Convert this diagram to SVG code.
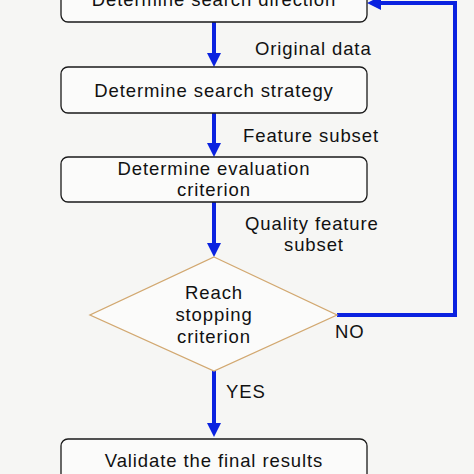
<svg xmlns="http://www.w3.org/2000/svg" width="474" height="474" viewBox="0 0 474 474">
<defs>
<style>
.box{fill:#fbfbfa;stroke:#1a1a1a;stroke-width:1.3}
.dia{fill:#fbfbfa;stroke:#d2a870;stroke-width:1.3}
.t{font-family:"Liberation Sans",Arial,sans-serif;font-size:18.5px;letter-spacing:0.9px;fill:#111;text-anchor:middle}
.l{font-family:"Liberation Sans",Arial,sans-serif;font-size:18.5px;letter-spacing:0.9px;fill:#111;text-anchor:start}
.c{fill:none;stroke:#0a22e0;stroke-width:4}
</style>
<marker id="ah" markerWidth="14" markerHeight="14" refX="0" refY="7" orient="auto" markerUnits="userSpaceOnUse" viewBox="0 0 14 14">
<path d="M0,0 L14,7 L0,14 Z" fill="#0a22e0"/>
</marker>
</defs>
<rect width="474" height="474" fill="#f6f6f4"/>
<g id="connectors">
<line class="c" x1="214" y1="22" x2="214" y2="53" marker-end="url(#ah)"/>
<line class="c" x1="214" y1="113" x2="214" y2="143" marker-end="url(#ah)"/>
<line class="c" x1="214" y1="202" x2="214" y2="243" marker-end="url(#ah)"/>
<line class="c" x1="214" y1="371" x2="214" y2="423" marker-end="url(#ah)"/>
<polyline class="c" points="337,315 455,315 455,3 381,3" marker-end="url(#ah)"/>
</g>
<g id="n1">
<rect class="box" x="61" y="-20" width="306" height="42" rx="7"/>
<text class="t" x="214" y="6">Determine search direction</text>
</g>
<g id="n2">
<rect class="box" x="61" y="67" width="306" height="46" rx="7"/>
<text class="t" x="214" y="97">Determine search strategy</text>
</g>
<g id="n3">
<rect class="box" x="61" y="157" width="306" height="45" rx="7"/>
<text class="t" x="214" y="175">Determine evaluation</text>
<text class="t" x="214" y="196">criterion</text>
</g>
<g id="n4">
<polygon class="dia" points="214,257 337,315 214,371 90,315"/>
<text class="t" x="214" y="299">Reach</text>
<text class="t" x="214" y="321">stopping</text>
<text class="t" x="214" y="343">criterion</text>
</g>
<g id="n5">
<rect class="box" x="61" y="439" width="306" height="50" rx="7"/>
<text class="t" x="214" y="467">Validate the final results</text>
</g>
<g id="labels">
<text class="l" x="255" y="55">Original data</text>
<text class="l" x="243" y="142">Feature subset</text>
<text class="l" x="245" y="230">Quality feature</text>
<text class="l" x="284" y="251">subset</text>
<text class="l" x="335" y="338">NO</text>
<text class="l" x="226" y="398">YES</text>
</g>
</svg>
